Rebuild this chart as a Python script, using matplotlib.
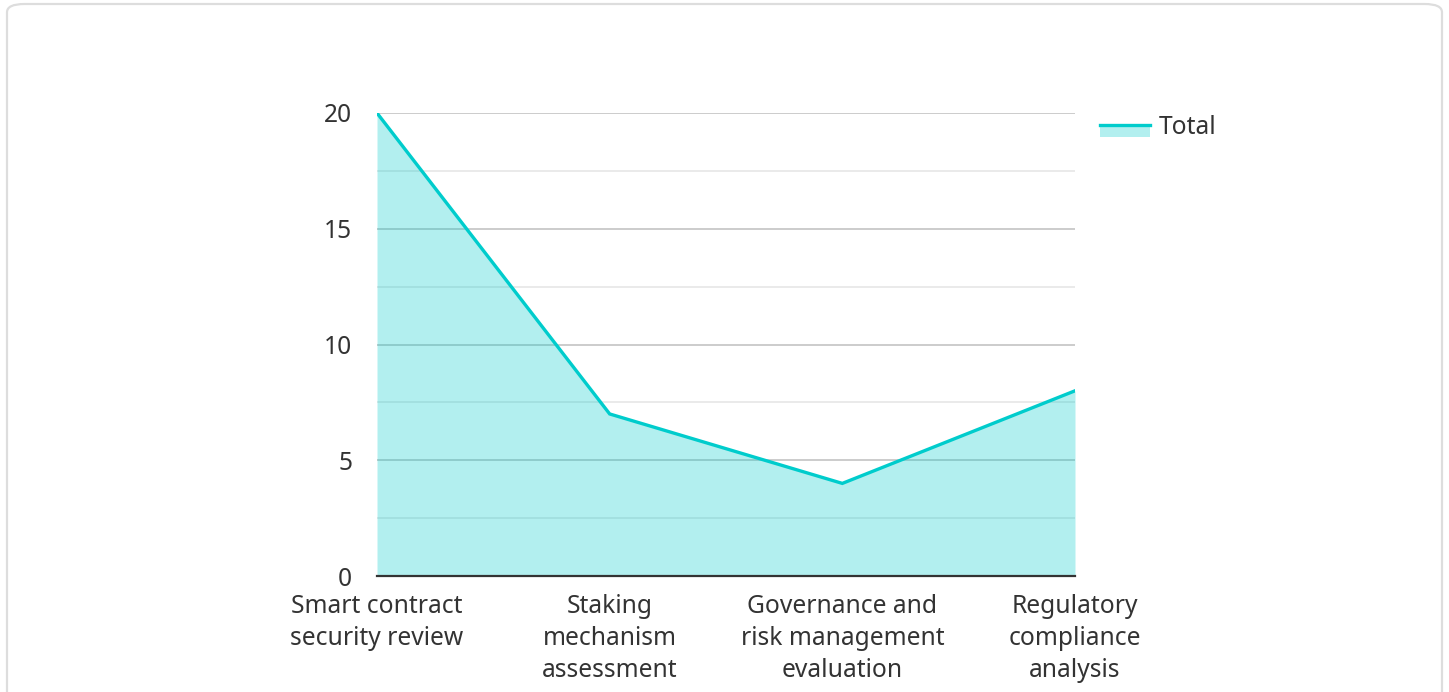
import matplotlib
matplotlib.use("Agg")
import matplotlib.pyplot as plt
from matplotlib.patches import FancyBboxPatch, Rectangle
from matplotlib.lines import Line2D

plt.rcParams['font.family'] = ['Noto Sans', 'DejaVu Sans']

categories = [
    "Smart contract\nsecurity review",
    "Staking\nmechanism\nassessment",
    "Governance and\nrisk management\nevaluation",
    "Regulatory\ncompliance\nanalysis",
]
totals = [20, 7, 4, 8]
series_name = "Total"

LINE = '#00CCCC'
TEXT = '#333333'
W, H = 1449, 692

fig = plt.figure(figsize=(W / 100, H / 100), dpi=100)

# card border (runs off the bottom edge)
fig.patches.append(FancyBboxPatch(
    (7 / W, -40 / H), 1435 / W, (692 - 4 + 40) / H,
    boxstyle="round,pad=0,rounding_size=0.012",
    transform=fig.transFigure, fc='none', ec='#dddddd', lw=1.6, zorder=5))

ax = fig.add_axes([377 / W, 1 - 576 / H, (1075 - 377) / W, (576 - 113) / H])
ax.set_facecolor('none')

x = list(range(len(categories)))
ax.fill_between(x, totals, 0, color=LINE, alpha=0.3, lw=0, zorder=2)
ax.plot(x, totals, color=LINE, lw=2.4, zorder=3, solid_joinstyle='miter')

ax.set_xlim(0, len(categories) - 1)
ax.set_ylim(0, 20)
ax.set_yticks([0, 5, 10, 15, 20])
ax.set_yticks([2.5, 7.5, 12.5, 17.5], minor=True)
ax.grid(axis='y', which='major', color='#c8c8c8', lw=1.3, zorder=1)
ax.grid(axis='y', which='minor', color='#e8e8e8', lw=1.3, zorder=1)
ax.set_axisbelow(True)

ax.set_xticks(x)
ax.set_xticklabels(categories, fontsize=17.7, color=TEXT, linespacing=1.36)
ax.tick_params(axis='x', length=0, pad=13)
ax.tick_params(axis='y', which='both', length=0, pad=18, labelsize=17.7, labelcolor=TEXT)

for s in ['top', 'right', 'left']:
    ax.spines[s].set_visible(False)
ax.spines['bottom'].set_color('#333333')
ax.spines['bottom'].set_linewidth(1.6)
ax.spines['bottom'].set_zorder(4)

# legend
fig.patches.append(Rectangle((1100 / W, 1 - 137 / H), 50 / W, 12 / H,
                             transform=fig.transFigure, fc=LINE, alpha=0.3, lw=0))
fig.lines.append(Line2D([1100 / W, 1150 / W], [1 - 124.5 / H, 1 - 124.5 / H],
                        transform=fig.transFigure, color=LINE, lw=2.4))
fig.text(1159 / W, 1 - 127 / H, series_name, fontsize=17.7, color=TEXT, va='center', ha='left')

fig.savefig('out.png', dpi=100)
